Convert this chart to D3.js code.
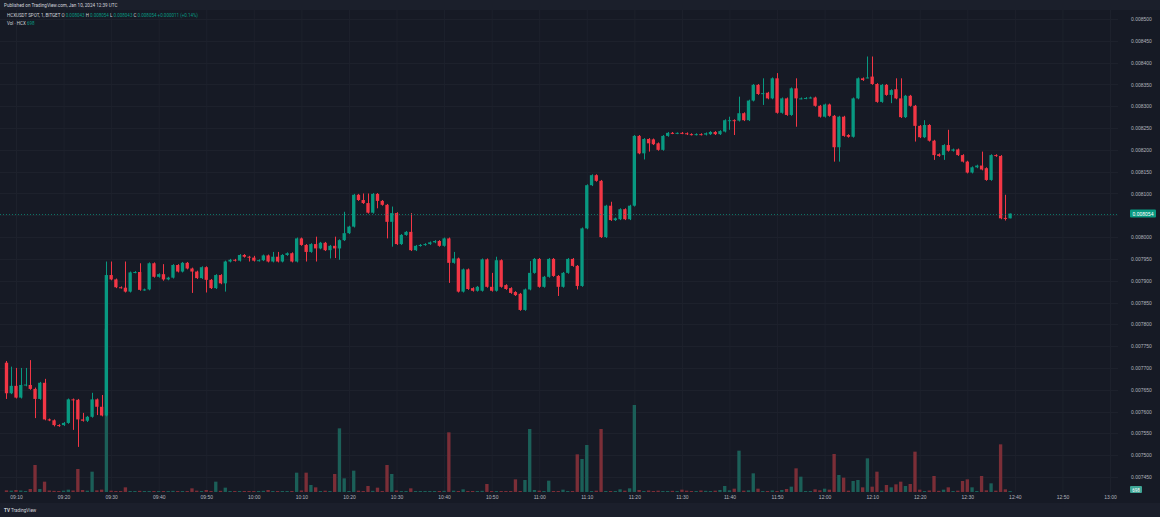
<!DOCTYPE html>
<html>
<head>
<meta charset="utf-8">
<script src="https://cdn.jsdelivr.net/npm/d3@7"></script>
<style>
  html, body { margin: 0; padding: 0; background: #161a25; }
  svg { display: block; font-family: Roboto, "DejaVu Sans", sans-serif; }
  .domain { display: none; }
</style>
</head>
<body>
<svg id="chart" width="1160" height="517"></svg>
<script>
// HCXUSDT SPOT, 1 min, BITGET - Jan 10 2024, from 09:08 UTC
const openP = [
  0.007712,0.007642,0.007659,0.007632,0.007661,0.007661,0.007652,0.007629,0.007666,0.007582,
  0.007580,0.007569,0.007569,0.007574,0.007628,0.007627,0.007582,0.007579,0.007588,0.007628,
  0.007611,0.007591,0.007913,0.007903,0.007885,0.007884,0.007875,0.007919,0.007920,0.007879,
  0.007880,0.007940,0.007909,0.007915,0.007903,0.007907,0.007936,0.007921,0.007941,0.007928,
  0.007921,0.007906,0.007931,0.007902,0.007883,0.007913,0.007894,0.007944,0.007948,0.007946,
  0.007959,0.007955,0.007953,0.007946,0.007947,0.007958,0.007944,0.007955,0.007944,0.007959,
  0.007963,0.007944,0.007997,0.007982,0.007966,0.007984,0.007974,0.007987,0.007970,0.007980,
  0.007974,0.007993,0.008009,0.008024,0.008097,0.008085,0.008078,0.008056,0.008099,0.008083,
  0.008074,0.008035,0.008055,0.007984,0.008005,0.008012,0.007970,0.007980,0.007982,0.007984,
  0.007988,0.007991,0.007980,0.007997,0.007941,0.007951,0.007875,0.007926,0.007883,0.007877,
  0.007877,0.007949,0.007886,0.007877,0.007947,0.007890,0.007883,0.007874,0.007870,0.007833,
  0.007880,0.007918,0.007950,0.007886,0.007909,0.007950,0.007911,0.007886,0.007918,0.007950,
  0.007934,0.007888,0.008020,0.008119,0.008142,0.008129,0.008000,0.008072,0.008039,0.008041,
  0.008064,0.008041,0.008072,0.008232,0.008192,0.008225,0.008224,0.008215,0.008200,0.008232,
  0.008239,0.008238,0.008239,0.008238,0.008236,0.008235,0.008236,0.008235,0.008236,0.008241,
  0.008236,0.008242,0.008268,0.008268,0.008267,0.008284,0.008268,0.008313,0.008349,0.008328,
  0.008331,0.008318,0.008364,0.008285,0.008318,0.008280,0.008341,0.008318,0.008318,0.008320,
  0.008320,0.008301,0.008276,0.008304,0.008278,0.008206,0.008276,0.008234,0.008230,0.008318,
  0.008364,0.008366,0.008368,0.008351,0.008310,0.008349,0.008326,0.008339,0.008318,0.008275,
  0.008324,0.008301,0.008255,0.008229,0.008257,0.008221,0.008190,0.008188,0.008211,0.008198,
  0.008201,0.008188,0.008173,0.008148,0.008160,0.008164,0.008158,0.008131,0.008188,0.008186,
  0.008044,0.008043
];
const highP = [
  0.007716,0.007703,0.007700,0.007700,0.007700,0.007718,0.007655,0.007668,0.007675,0.007584,
  0.007582,0.007571,0.007576,0.007630,0.007630,0.007629,0.007597,0.007590,0.007643,0.007630,
  0.007638,0.007944,0.007944,0.007905,0.007887,0.007944,0.007921,0.007922,0.007940,0.007882,
  0.007942,0.007942,0.007917,0.007938,0.007909,0.007938,0.007938,0.007943,0.007943,0.007930,
  0.007923,0.007933,0.007933,0.007904,0.007915,0.007915,0.007946,0.007950,0.007950,0.007961,
  0.007961,0.007957,0.007957,0.007949,0.007960,0.007960,0.007966,0.007966,0.007961,0.007965,
  0.007965,0.007999,0.007999,0.007984,0.007986,0.008001,0.007989,0.007989,0.007982,0.008001,
  0.007995,0.008058,0.008026,0.008099,0.008099,0.008100,0.008100,0.008101,0.008101,0.008085,
  0.008076,0.008070,0.008057,0.008007,0.008014,0.008055,0.007982,0.007984,0.007986,0.007990,
  0.007993,0.007993,0.007999,0.007999,0.007966,0.007953,0.007928,0.007928,0.007885,0.007888,
  0.007951,0.007951,0.007918,0.007955,0.007949,0.007892,0.007885,0.007876,0.007872,0.007882,
  0.007945,0.007952,0.007952,0.007911,0.007952,0.007952,0.007913,0.007920,0.007952,0.007952,
  0.007936,0.008022,0.008121,0.008144,0.008144,0.008131,0.008074,0.008081,0.008045,0.008066,
  0.008066,0.008074,0.008234,0.008234,0.008227,0.008227,0.008226,0.008217,0.008234,0.008241,
  0.008241,0.008240,0.008241,0.008240,0.008238,0.008238,0.008238,0.008240,0.008243,0.008243,
  0.008245,0.008270,0.008276,0.008270,0.008322,0.008286,0.008315,0.008351,0.008351,0.008364,
  0.008333,0.008366,0.008376,0.008320,0.008320,0.008343,0.008364,0.008320,0.008321,0.008322,
  0.008322,0.008303,0.008306,0.008306,0.008280,0.008278,0.008278,0.008236,0.008320,0.008366,
  0.008366,0.008414,0.008414,0.008353,0.008351,0.008351,0.008339,0.008364,0.008364,0.008326,
  0.008326,0.008303,0.008257,0.008268,0.008259,0.008223,0.008192,0.008213,0.008246,0.008203,
  0.008203,0.008190,0.008175,0.008162,0.008166,0.008196,0.008160,0.008190,0.008190,0.008188,
  0.008097,0.008054
];
const lowP = [
  0.007629,0.007640,0.007630,0.007630,0.007658,0.007650,0.007585,0.007627,0.007580,0.007578,
  0.007566,0.007565,0.007567,0.007572,0.007558,0.007519,0.007577,0.007576,0.007586,0.007592,
  0.007589,0.007589,0.007901,0.007883,0.007882,0.007873,0.007873,0.007917,0.007877,0.007877,
  0.007878,0.007907,0.007907,0.007900,0.007901,0.007905,0.007919,0.007919,0.007926,0.007872,
  0.007904,0.007904,0.007873,0.007881,0.007881,0.007892,0.007875,0.007942,0.007944,0.007944,
  0.007953,0.007944,0.007944,0.007944,0.007945,0.007942,0.007942,0.007942,0.007942,0.007957,
  0.007942,0.007942,0.007980,0.007944,0.007964,0.007944,0.007972,0.007968,0.007951,0.007952,
  0.007948,0.007991,0.008007,0.008022,0.008083,0.008076,0.008054,0.008054,0.008066,0.008072,
  0.007997,0.007978,0.007982,0.007982,0.008003,0.007968,0.007968,0.007978,0.007980,0.007982,
  0.007986,0.007978,0.007978,0.007895,0.007939,0.007873,0.007873,0.007879,0.007875,0.007875,
  0.007875,0.007884,0.007875,0.007875,0.007884,0.007879,0.007870,0.007865,0.007831,0.007831,
  0.007878,0.007916,0.007884,0.007884,0.007907,0.007909,0.007865,0.007884,0.007916,0.007932,
  0.007880,0.007886,0.008018,0.008117,0.008127,0.007998,0.007998,0.008037,0.008037,0.008039,
  0.008039,0.008039,0.008070,0.008190,0.008178,0.008196,0.008211,0.008198,0.008198,0.008230,
  0.008236,0.008236,0.008236,0.008234,0.008233,0.008233,0.008233,0.008233,0.008234,0.008234,
  0.008234,0.008240,0.008246,0.008234,0.008265,0.008266,0.008266,0.008311,0.008326,0.008303,
  0.008316,0.008316,0.008283,0.008283,0.008278,0.008278,0.008253,0.008316,0.008316,0.008318,
  0.008299,0.008274,0.008274,0.008276,0.008173,0.008173,0.008230,0.008228,0.008228,0.008316,
  0.008358,0.008364,0.008349,0.008308,0.008308,0.008324,0.008307,0.008316,0.008273,0.008273,
  0.008299,0.008219,0.008227,0.008227,0.008219,0.008177,0.008184,0.008177,0.008196,0.008196,
  0.008186,0.008171,0.008146,0.008146,0.008158,0.008153,0.008129,0.008129,0.008184,0.008041,
  0.008038,0.008043
];
const closeP = [
  0.007642,0.007659,0.007632,0.007661,0.007662,0.007652,0.007629,0.007666,0.007582,0.007580,
  0.007569,0.007568,0.007574,0.007628,0.007627,0.007582,0.007579,0.007588,0.007628,0.007611,
  0.007591,0.007913,0.007903,0.007885,0.007884,0.007875,0.007919,0.007920,0.007879,0.007880,
  0.007940,0.007909,0.007915,0.007903,0.007907,0.007936,0.007921,0.007941,0.007928,0.007921,
  0.007906,0.007931,0.007902,0.007883,0.007913,0.007894,0.007944,0.007948,0.007946,0.007959,
  0.007955,0.007953,0.007946,0.007947,0.007958,0.007944,0.007955,0.007944,0.007959,0.007963,
  0.007944,0.007997,0.007982,0.007966,0.007984,0.007974,0.007987,0.007970,0.007980,0.007974,
  0.007993,0.008009,0.008024,0.008097,0.008085,0.008078,0.008056,0.008099,0.008083,0.008074,
  0.008035,0.008055,0.007984,0.008005,0.008012,0.007970,0.007980,0.007982,0.007984,0.007988,
  0.007991,0.007980,0.007997,0.007941,0.007951,0.007875,0.007926,0.007881,0.007877,0.007886,
  0.007949,0.007886,0.007877,0.007947,0.007886,0.007881,0.007872,0.007867,0.007833,0.007880,
  0.007918,0.007950,0.007886,0.007909,0.007950,0.007911,0.007886,0.007918,0.007950,0.007934,
  0.007888,0.008020,0.008119,0.008142,0.008129,0.008000,0.008072,0.008039,0.008043,0.008064,
  0.008041,0.008072,0.008232,0.008192,0.008225,0.008215,0.008213,0.008200,0.008232,0.008239,
  0.008238,0.008239,0.008238,0.008236,0.008235,0.008236,0.008235,0.008238,0.008241,0.008236,
  0.008243,0.008268,0.008268,0.008267,0.008284,0.008268,0.008313,0.008349,0.008328,0.008330,
  0.008318,0.008364,0.008285,0.008318,0.008280,0.008341,0.008318,0.008318,0.008319,0.008320,
  0.008301,0.008276,0.008304,0.008278,0.008206,0.008276,0.008232,0.008230,0.008318,0.008364,
  0.008360,0.008366,0.008351,0.008310,0.008349,0.008326,0.008337,0.008318,0.008275,0.008324,
  0.008301,0.008255,0.008229,0.008257,0.008221,0.008188,0.008186,0.008211,0.008198,0.008201,
  0.008188,0.008173,0.008148,0.008160,0.008164,0.008155,0.008131,0.008188,0.008186,0.008043,
  0.008043,0.008054
];
// volume in thousands of HCX
const volumeK = [
  10,8,12,9,6,18,162,18,62,9,
  7,6,8,14,9,138,12,8,122,10,
  14,980,8,6,5,28,6,5,7,4,
  6,5,4,6,5,7,4,5,6,22,
  8,6,12,5,62,7,26,4,5,6,
  5,4,6,5,7,12,6,5,4,6,
  5,116,9,116,42,28,6,8,5,108,
  382,82,6,128,8,5,36,7,26,6,
  162,108,9,6,5,22,6,4,5,4,
  6,5,7,358,8,6,16,5,4,6,
  7,48,6,5,4,6,5,76,6,72,
  378,12,8,6,68,5,6,14,5,6,
  226,198,282,6,8,378,5,4,6,16,
  8,22,522,12,6,9,5,8,6,5,
  7,6,14,8,5,6,9,7,5,8,
  12,36,10,20,248,8,10,112,20,6,
  5,9,6,12,18,32,142,92,6,5,
  16,10,20,14,228,102,86,8,66,72,
  28,202,32,122,8,42,28,46,62,36,
  48,242,14,6,9,96,7,14,28,5,
  8,66,76,28,6,96,10,52,8,286,
  16,0.698
];
const timeTicks = ["09:10","09:20","09:30","09:40","09:50","10:00","10:10","10:20","10:30","10:40","10:50","11:00",
  "11:10","11:20","11:30","11:40","11:50","12:00","12:10","12:20","12:30","12:40","12:50","13:00"];
const priceTicks = [0.007450,0.007500,0.007550,0.007600,0.007650,0.007700,0.007750,0.007800,0.007850,0.007900,
  0.007950,0.008000,0.008050,0.008100,0.008150,0.008200,0.008250,0.008300,0.008350,0.008400,0.008450,0.008500];

const upColor = "#089981", downColor = "#f23645";
const upVol = "#1b5f58", downVol = "#7b2e37";
const bg = "#161a25", gridColor = "#1d212c", textColor = "#b2b5be";

const W = 1160, H = 517;
const plotRight = 1118, plotTop = 10, plotBottom = 492;

const svg = d3.select("#chart");
svg.append("rect").attr("width", W).attr("height", H).attr("fill", bg);

const day = (hm) => { const p = hm.split(":"); return new Date(Date.UTC(2024, 0, 10, +p[0], +p[1])); };
const start = day("09:08");
const candles = openP.map((o, i) => ({
  t: d3.utcMinute.offset(start, i), o: o, h: highP[i], l: lowP[i], c: closeP[i], v: volumeK[i]
}));

const x = d3.scaleUtc().domain([day("09:10"), day("13:00")]).range([16, 1110]);
const y = d3.scaleLinear().domain([0.00745, 0.0085]).range([477, 19]);
const yv = d3.scaleLinear().domain([0, 600]).range([plotBottom, plotBottom - 100]);
const step = x(day("09:11")) - x(day("09:10"));
const bw = step * 0.7;

// grid
const grid = svg.append("g");
grid.selectAll(".vg").data(timeTicks).enter().append("line")
  .attr("x1", d => x(day(d)) + 0.5).attr("x2", d => x(day(d)) + 0.5)
  .attr("y1", plotTop).attr("y2", plotBottom)
  .attr("stroke", gridColor).attr("stroke-width", 1);
grid.selectAll(".hg").data(priceTicks).enter().append("line")
  .attr("x1", 0).attr("x2", plotRight)
  .attr("y1", d => Math.round(y(d)) + 0.5).attr("y2", d => Math.round(y(d)) + 0.5)
  .attr("stroke", gridColor).attr("stroke-width", 1);

// volume
svg.append("g").selectAll("rect").data(candles).enter().append("rect")
  .attr("x", d => x(d.t) - bw / 2)
  .attr("width", bw)
  .attr("y", d => Math.min(yv(d.v), plotBottom - 1))
  .attr("height", d => Math.max(plotBottom - yv(d.v), 1))
  .attr("fill", d => d.c >= d.o ? upVol : downVol);

// candles
const cg = svg.append("g").selectAll("g").data(candles).enter().append("g");
cg.append("line")
  .attr("x1", d => Math.round(x(d.t)) + 0.5).attr("x2", d => Math.round(x(d.t)) + 0.5)
  .attr("y1", d => y(d.h)).attr("y2", d => y(d.l))
  .attr("stroke", d => d.c >= d.o ? upColor : downColor).attr("stroke-width", 1);
cg.append("rect")
  .attr("x", d => x(d.t) - bw / 2)
  .attr("width", bw)
  .attr("y", d => y(Math.max(d.o, d.c)))
  .attr("height", d => Math.max(Math.abs(y(d.o) - y(d.c)), 1))
  .attr("fill", d => d.c >= d.o ? upColor : downColor);

// last price line
const last = candles[candles.length - 1];
svg.append("line")
  .attr("x1", 0).attr("x2", plotRight)
  .attr("y1", Math.round(y(last.c)) + 0.5).attr("y2", Math.round(y(last.c)) + 0.5)
  .attr("stroke", upColor).attr("stroke-width", 1).attr("stroke-dasharray", "1,2").attr("opacity", 0.7);

// price axis
const axY = svg.append("g").attr("transform", `translate(${plotRight + 13},0)`)
  .call(d3.axisRight(y).tickValues(priceTicks).tickSize(0).tickPadding(0).tickFormat(d3.format(".6f")));
axY.selectAll("text").attr("fill", textColor).style("font-size", "5px");

// time axis
const axX = svg.append("g").attr("transform", `translate(0,${plotBottom})`)
  .call(d3.axisBottom(x).tickValues(timeTicks.map(day)).tickSize(0).tickPadding(3).tickFormat(d3.utcFormat("%H:%M")));
axX.selectAll("text").attr("fill", textColor).style("font-size", "5px");

// price label
const ly = y(last.c);
svg.append("rect").attr("x", plotRight + 12).attr("y", ly - 4).attr("width", 26).attr("height", 8)
  .attr("rx", 1).attr("fill", upColor);
svg.append("text").attr("x", plotRight + 25).attr("y", ly + 2).attr("text-anchor", "middle")
  .attr("fill", "#ffffff").style("font-size", "5px").text(d3.format(".6f")(last.c));

// volume label
svg.append("rect").attr("x", plotRight + 12).attr("y", 486).attr("width", 12).attr("height", 7)
  .attr("rx", 1).attr("fill", "#3fa595");
svg.append("text").attr("x", plotRight + 18).attr("y", 491.5).attr("text-anchor", "middle")
  .attr("fill", "#ffffff").style("font-size", "4.5px").text(Math.round(last.v * 1000));

// header
svg.append("rect").attr("width", W).attr("height", 10).attr("fill", "#1b1f2b");
svg.append("text").attr("x", 4).attr("y", 7).attr("fill", "#d1d4dc").style("font-size", "4.6px")
  .text("Published on TradingView.com, Jan 10, 2024 12:39 UTC");

// legend
const fmt = d3.format(".6f");
const lg = svg.append("text").attr("x", 7).attr("y", 17).style("font-size", "4.5px").attr("fill", "#d1d4dc");
lg.append("tspan").text("HCXUSDT SPOT, 1, BITGET ");
[["O", last.o], ["H", last.h], ["L", last.l], ["C", last.c]].forEach(p => {
  lg.append("tspan").attr("fill", "#d1d4dc").text(" " + p[0] + " ");
  lg.append("tspan").attr("fill", upColor).text(fmt(p[1]));
});
lg.append("tspan").attr("fill", upColor).text(" +" + fmt(last.c - last.o) + " (+" + d3.format(".2f")((last.c - last.o) / last.o * 100) + "%)");
const lg2 = svg.append("text").attr("x", 7).attr("y", 24.5).style("font-size", "4.5px").attr("fill", "#d1d4dc");
lg2.append("tspan").text("Vol · HCX ");
lg2.append("tspan").attr("fill", upColor).text(Math.round(last.v * 1000));

// footer
svg.append("rect").attr("y", 503).attr("width", W).attr("height", 14).attr("fill", "#1b1f2b");
svg.append("text").attr("x", 4).attr("y", 512).attr("fill", "#d1d4dc").style("font-size", "4.6px")
  .style("font-weight", "bold").text("TV");
svg.append("text").attr("x", 11).attr("y", 512).attr("fill", "#d1d4dc").style("font-size", "4.6px")
  .text("TradingView");
</script>
</body>
</html>
